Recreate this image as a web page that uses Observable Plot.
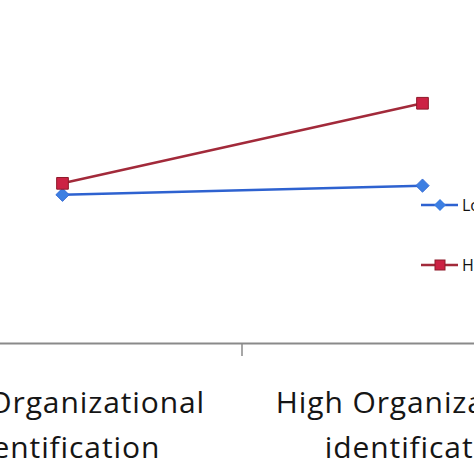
<!DOCTYPE html>
<html><head><meta charset="utf-8">
<script src="https://cdn.jsdelivr.net/npm/d3@7"></script>
<script src="https://cdn.jsdelivr.net/npm/@observablehq/plot@0.6"></script>
<style>
html,body{margin:0;padding:0;background:#fff;overflow:hidden;}
#wrap{position:relative;width:474px;height:474px;overflow:hidden;background:#fff;}
#wrap svg{display:block;}
.leg{position:absolute;left:421px;height:20px;font:16px "Open Sans",sans-serif;color:#111;display:flex;align-items:center;white-space:nowrap;}
.leg svg{margin-right:3px;}
</style></head><body><div id="wrap"></div>
<script>
// ---- data ----
const categories = ["Low Organizational identification", "High Organizational identification"];
const tickLabels = ["Low Organizational\nidentification", "High Organizational\nidentification"];
const seriesNames = ["Low", "High"];
const lowValues = [3.30, 3.38];
const highValues = [3.40, 4.10];
const yDomain = [2, 4.5];

const blueLine = "#2e62d0", blueFill = "#3d7fe2";
const redLine = "#a22a3a", redFill = "#cc2244", redEdge = "#8e1a2a";

const lowRows = categories.map((c, i) => ({cat: c, series: seriesNames[0], value: lowValues[i]}));
const highRows = categories.map((c, i) => ({cat: c, series: seriesNames[1], value: highValues[i]}));

function boundaryTick(index, scales) {
  const x = scales.x;
  const bw = x.bandwidth ? x.bandwidth() : 0;
  const b = x(categories[1]);
  const y0 = scales.y(yDomain[0]);
  const g = d3.create("svg:line")
    .attr("x1", b).attr("x2", b)
    .attr("y1", y0).attr("y2", y0 + 13)
    .attr("stroke", "#8a8a8a").attr("stroke-width", 1.5);
  return g.node();
}

const chart = Plot.plot({
  width: 474, height: 474,
  marginTop: 57, marginBottom: 131, marginLeft: 0, marginRight: 0,
  style: {overflow: "hidden", fontFamily: "'Open Sans', sans-serif", background: "white"},
  x: {type: "band", domain: categories, range: [-118, 602], padding: 0, axis: null},
  y: {domain: yDomain, axis: null},
  marks: [
    Plot.ruleY([yDomain[0]], {stroke: "#8a8a8a", strokeWidth: 2}),
    boundaryTick,
    Plot.line(lowRows, {x: "cat", y: "value", stroke: blueLine, strokeWidth: 2.5}),
    Plot.line(highRows, {x: "cat", y: "value", stroke: redLine, strokeWidth: 2.5}),
    Plot.dot(lowRows, {x: "cat", y: "value", symbol: "diamond2", r: 6, fill: blueFill, stroke: blueLine, strokeWidth: 0.8}),
    Plot.dot(highRows, {x: "cat", y: "value", symbol: "square", r: 6.6, fill: redFill, stroke: redEdge, strokeWidth: 1}),
    Plot.text(categories, {x: d => d, y: () => yDomain[0], text: (d, i) => tickLabels[i],
      lineAnchor: "top", dy: 38, fontSize: 30, lineHeight: 1.5, fill: "#151515", style: {letterSpacing: "0.9px"}})
  ]
});
chart.style.letterSpacing = "0.9px";
const wrap = document.getElementById("wrap");
wrap.appendChild(chart);

function legendItem(name, top, shape) {
  const div = document.createElement("div");
  div.className = "leg";
  div.style.top = (top - 10) + "px";
  div.innerHTML = shape + `<span>${name}</span>`;
  wrap.appendChild(div);
}
legendItem(seriesNames[0], 205,
  `<svg width="38" height="20"><line x1="0" x2="37" y1="10" y2="10" stroke="${blueLine}" stroke-width="2.5"/><path d="M19,4 L25,10 L19,16 L13,10 Z" fill="${blueFill}"/></svg>`);
legendItem(seriesNames[1], 265,
  `<svg width="38" height="20"><line x1="0" x2="37" y1="10" y2="10" stroke="${redLine}" stroke-width="2.5"/><rect x="14" y="5" width="10" height="10" fill="${redFill}" stroke="${redEdge}" stroke-width="1"/></svg>`);
</script></body></html>
